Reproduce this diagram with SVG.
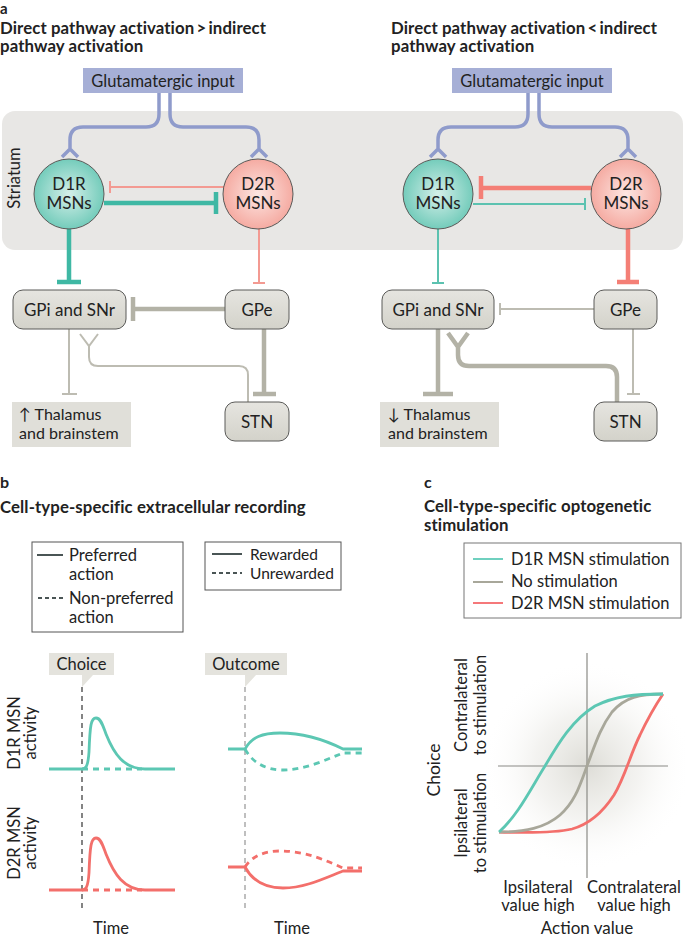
<svg xmlns="http://www.w3.org/2000/svg" width="685" height="938" viewBox="0 0 685 938">
<style>
text{font-family:Lato,"Liberation Sans",sans-serif;fill:#222}
.lbl{font-size:16px;font-weight:bold}
.ttl{font-size:16.8px;font-weight:bold;letter-spacing:0.1px}
.t{font-size:16.5px}
.th{font-size:16px}
.lg{font-size:15.5px}
.n{font-size:17px}
.c{text-anchor:middle}
.glu{fill:none;stroke:#8f9bcb;stroke-width:3.5;stroke-linecap:butt}
.box{stroke:#5a5a58;stroke-width:1;fill:url(#gbox)}
.circ{stroke:#5a5a58;stroke-width:1}
.ln{fill:none}
.tealK{stroke:#3fb8a4;stroke-width:4.5}
.tealT{stroke:#5cc2b0;stroke-width:2}
.pinkK{stroke:#f47f76;stroke-width:4.5}
.pinkT{stroke:#f39a92;stroke-width:2}
.grayK{stroke:#b3b2a6;stroke-width:4.5}
.grayT{stroke:#bdbcb2;stroke-width:2}
.leg{stroke:#4a5555;stroke-width:2}
.legd{stroke:#4a5555;stroke-width:2;stroke-dasharray:4 3}
.cv{fill:none;stroke-width:2.8;stroke-linejoin:round}
.dash{stroke-dasharray:6 5}
</style>
<defs>
<radialGradient id="gd1" cx="0.5" cy="0.5" r="0.5"><stop offset="0" stop-color="#d4efe9"/><stop offset="1" stop-color="#74ccbb"/></radialGradient>
<radialGradient id="gd2" cx="0.5" cy="0.5" r="0.5"><stop offset="0" stop-color="#fde6e2"/><stop offset="1" stop-color="#f5aba2"/></radialGradient>
<linearGradient id="gbox" x1="0" y1="0" x2="0" y2="1"><stop offset="0" stop-color="#e6e5e0"/><stop offset="1" stop-color="#d3d2ca"/></linearGradient>
<radialGradient id="gshade" cx="587" cy="766" r="105" gradientUnits="userSpaceOnUse"><stop offset="0" stop-color="#d2d1c9" stop-opacity="0.75"/><stop offset="0.5" stop-color="#e2e1db" stop-opacity="0.4"/><stop offset="1" stop-color="#ffffff" stop-opacity="0"/></radialGradient>
</defs>
<rect width="685" height="938" fill="#ffffff"/>

<!-- Panel a -->
<g id="panel-a-labels">
<text class="lbl" x="0" y="14" style="font-size:15px">a</text>
<text class="ttl" x="0" y="34">Direct pathway activation&#8201;&gt;&#8201;indirect</text>
<text class="ttl" x="0" y="52">pathway activation</text>
<text class="ttl" x="391" y="34">Direct pathway activation&#8201;&lt;&#8201;indirect</text>
<text class="ttl" x="391" y="52">pathway activation</text>
</g>

<g id="striatum">
<rect x="2" y="111" width="681" height="139" rx="13" fill="#e8e7e5"/>
<text class="t" transform="translate(20,178) rotate(-90)" text-anchor="middle">Striatum</text>
</g>

<g id="glu-left"><rect x="83" y="68" width="160" height="25" fill="#a6afd6"/><text class="t c" x="163" y="86.5">Glutamatergic input</text></g>
<g id="glu-right"><rect x="452" y="68" width="160" height="25" fill="#a6afd6"/><text class="t c" x="532" y="86.5">Glutamatergic input</text></g>

<g id="connectors">
<path class="glu" d="M159,93 V114 Q159,127 146,127 H83 Q70,127 70,140 V149 M62,157 L70,149 L78,157"/>
<path class="glu" d="M170,93 V114 Q170,127 183,127 H246 Q259,127 259,140 V149 M251,157 L259,149 L267,157"/>
<path class="glu" d="M528,93 V114 Q528,127 515,127 H451 Q438,127 438,140 V149 M430,157 L438,149 L446,157"/>
<path class="glu" d="M539,93 V114 Q539,127 552,127 H615 Q628,127 628,140 V149 M620,157 L628,149 L636,157"/>

<path class="ln pinkT" d="M224,187 H110 M110,181 V193"/>
<path class="ln tealK" d="M104,203 H216 M216,192 V214"/>
<path class="ln tealK" d="M69,228 V282 M57,282 H81"/>
<path class="ln pinkT" d="M259,228 V283 M253,283 H265"/>
<path class="ln pinkK" d="M591,188 H481 M481,176 V199"/>
<path class="ln tealT" d="M473,204 H585 M585,198 V210"/>
<path class="ln tealT" d="M438,228 V283 M432,283 H444"/>
<path class="ln pinkK" d="M628,228 V282 M617,282 H639"/>

<path class="ln grayK" d="M225,309 H133 M133,297 V321"/>
<path class="ln grayT" d="M69,329 V394 M62,394 H77"/>
<path class="ln grayK" d="M264,329 V394 M253,394 H276"/>
<path class="ln grayT" d="M248,402 V375 Q248,366 239,366 H98 Q89,366 89,357 V346 M80,334 L89,346 L98,334"/>
<path class="ln grayT" d="M594,309 H500 M500,303 V315"/>
<path class="ln grayK" d="M438,329 V394 M423,394 H453"/>
<path class="ln grayT" d="M633,329 V394 M627,394 H640"/>
<path class="ln grayK" d="M617,402 V377 Q617,366 606,366 H469 Q458,366 458,355 V347 M448,333 L458,347 L468,333"/>
</g>

<g id="d1r-left"><circle class="circ" cx="69" cy="194" r="35" fill="url(#gd1)"/><text class="n c" x="69" y="190">D1R</text><text class="n c" x="69" y="209">MSNs</text></g>
<g id="d2r-left"><circle class="circ" cx="258" cy="194" r="35" fill="url(#gd2)"/><text class="n c" x="258" y="190">D2R</text><text class="n c" x="258" y="209">MSNs</text></g>
<g id="d1r-right"><circle class="circ" cx="438" cy="194" r="35" fill="url(#gd1)"/><text class="n c" x="438" y="190">D1R</text><text class="n c" x="438" y="209">MSNs</text></g>
<g id="d2r-right"><circle class="circ" cx="626" cy="194" r="35" fill="url(#gd2)"/><text class="n c" x="626" y="190">D2R</text><text class="n c" x="626" y="209">MSNs</text></g>

<g id="gpi-left"><rect class="box" x="13" y="290" width="113" height="39" rx="10"/><text class="n c" x="69.5" y="315.5">GPi and SNr</text></g>
<g id="gpe-left"><rect class="box" x="225" y="290" width="64" height="39" rx="10"/><text class="n c" x="257" y="315.5">GPe</text></g>
<g id="stn-left"><rect class="box" x="225" y="402" width="64" height="39" rx="10"/><text class="n c" x="257" y="427.5">STN</text></g>
<g id="thal-left"><rect x="12" y="402" width="119" height="45" fill="#e0dfd9"/><text class="th" x="19" y="420">↑ Thalamus</text><text class="th" x="19" y="439">and brainstem</text></g>

<g id="gpi-right"><rect class="box" x="382" y="290" width="112" height="39" rx="10"/><text class="n c" x="438" y="315.5">GPi and SNr</text></g>
<g id="gpe-right"><rect class="box" x="594" y="290" width="63" height="39" rx="10"/><text class="n c" x="625.5" y="315.5">GPe</text></g>
<g id="stn-right"><rect class="box" x="594" y="402" width="63" height="39" rx="10"/><text class="n c" x="625.5" y="427.5">STN</text></g>
<g id="thal-right"><rect x="380" y="402" width="119" height="45" fill="#e0dfd9"/><text class="th" x="388" y="420">↓ Thalamus</text><text class="th" x="388" y="439">and brainstem</text></g>

<!-- Panel b -->
<g id="panel-b">
<text class="lbl" x="0" y="488">b</text>
<text class="ttl" x="0" y="513">Cell-type-specific extracellular recording</text>
<rect x="32" y="542" width="151" height="90" fill="none" stroke="#555" stroke-width="1"/>
<line class="leg" x1="37" y1="555" x2="63" y2="555"/>
<text class="t" x="69" y="561">Preferred</text>
<text class="t" x="69" y="580">action</text>
<line class="legd" x1="38" y1="598" x2="63" y2="598"/>
<text class="t" x="69" y="604">Non-preferred</text>
<text class="t" x="69" y="623">action</text>
<rect x="205" y="542" width="136" height="48" fill="none" stroke="#555" stroke-width="1"/>
<line class="leg" x1="212" y1="554" x2="242" y2="554"/>
<text class="lg" x="250" y="560">Rewarded</text>
<line class="legd" x1="212" y1="573" x2="242" y2="573"/>
<text class="lg" x="250" y="579">Unrewarded</text>

<path d="M49,653 H114 V675 H93 L82,687 V675 H49 Z" fill="#e4e3dd"/>
<text class="t c" x="81.5" y="670">Choice</text>
<path d="M205,653 H287 V675 H256 L245,687 V675 H205 Z" fill="#e4e3dd"/>
<text class="t c" x="246" y="670">Outcome</text>
<line x1="82" y1="687" x2="82" y2="910" stroke="#333" stroke-width="1.2" stroke-dasharray="5 4"/>
<line x1="245" y1="687" x2="245" y2="910" stroke="#aaa" stroke-width="1.5" stroke-dasharray="5 4"/>

<text class="t c" transform="translate(20,733) rotate(-90)">D1R MSN</text>
<text class="t c" transform="translate(36,733) rotate(-90)">activity</text>
<text class="t c" transform="translate(20,843) rotate(-90)">D2R MSN</text>
<text class="t c" transform="translate(36,843) rotate(-90)">activity</text>

<path class="cv" stroke="#5cc7b3" d="M49,769 H82 C86,769 88,766 89,752 C90,725 91,718 96,718 C101,718 103,726 106,734 C114,754 124,769 145,769 H175"/>
<path class="cv dash" stroke="#5cc7b3" d="M82,769 H142"/>
<path class="cv" stroke="#f36f6b" d="M49,890 H82 C86,890 88,887 89,873 C90,846 91,838 96,838 C101,838 103,846 106,854 C114,874 124,890 145,890 H175"/>
<path class="cv dash" stroke="#f36f6b" d="M82,890 H142"/>

<path class="cv" stroke="#5cc7b3" d="M228,749 H245 C252,737 262,733 280,733 C305,733 325,740 343,749 H362"/>
<path class="cv dash" stroke="#5cc7b3" d="M245,749 C252,762 265,770 283,770 C305,770 325,760 343,753 H362"/>
<path class="cv dash" stroke="#f36f6b" d="M245,867 C252,856 265,851 280,851 C305,851 325,860 343,868 H362"/>
<path class="cv" stroke="#f36f6b" d="M228,867 H245 C252,880 265,888 283,888 C305,888 325,878 343,871 H362"/>

<text class="t c" x="111" y="934">Time</text>
<text class="t c" x="292" y="934">Time</text>
</g>

<!-- Panel c -->
<g id="panel-c">
<text class="lbl" x="424" y="488">c</text>
<text class="ttl" x="424" y="512">Cell-type-specific optogenetic</text>
<text class="ttl" x="424" y="531">stimulation</text>
<rect x="464" y="543" width="217" height="75" fill="none" stroke="#777" stroke-width="1"/>
<line x1="473" y1="559" x2="503" y2="559" stroke="#6fd0bf" stroke-width="2"/>
<text class="t" x="511" y="565">D1R MSN stimulation</text>
<line x1="473" y1="582" x2="503" y2="582" stroke="#a8a79a" stroke-width="2"/>
<text class="t" x="511" y="587">No stimulation</text>
<line x1="473" y1="603" x2="503" y2="603" stroke="#f5787a" stroke-width="2"/>
<text class="t" x="511" y="609">D2R MSN stimulation</text>

<circle cx="587" cy="766" r="105" fill="url(#gshade)"/>
<line x1="587" y1="653" x2="587" y2="878" stroke="#8a8a85" stroke-width="1.2"/>
<line x1="498" y1="766" x2="668" y2="766" stroke="#8a8a85" stroke-width="1.2"/>
<path class="cv" stroke="#f36f6b" d="M499,832 C530,833 555,833 572,829 C590,824 603,812 614,795 C625,777 630,755 640,735 C648,718 655,706 663,694"/>
<path class="cv" stroke="#a8a79a" d="M499,832 C525,832 545,828 560,815 C575,802 580,785 587,766 C595,745 600,728 612,712 C625,697 640,694 663,694"/>
<path class="cv" stroke="#5cc7b3" d="M499,832 C518,815 530,790 545,766 C558,744 572,720 595,706 C615,696 635,694 663,694"/>

<text class="c" transform="translate(440,770) rotate(-90)" style="font-size:17.5px">Choice</text>
<text class="t c" transform="translate(467,705) rotate(-90)">Contralateral</text>
<text class="t c" transform="translate(486,705) rotate(-90)">to stimulation</text>
<text class="t c" transform="translate(467,823) rotate(-90)">Ipsilateral</text>
<text class="t c" transform="translate(486,823) rotate(-90)">to stimulation</text>
<text class="t c" x="538" y="893">Ipsilateral</text>
<text class="t c" x="538" y="911">value high</text>
<text class="t c" x="634" y="893">Contralateral</text>
<text class="t c" x="634" y="911">value high</text>
<text class="c" x="587" y="934" style="font-size:17px">Action value</text>
</g>
</svg>
